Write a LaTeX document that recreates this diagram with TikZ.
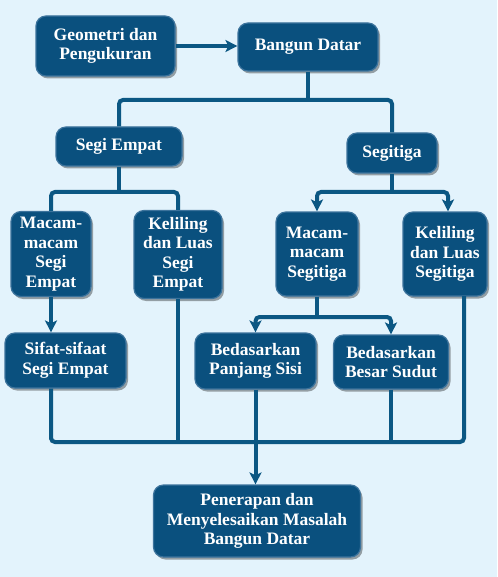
\documentclass[tikz,border=0pt]{standalone}
\usepackage{fontspec}
\setmainfont{Liberation Serif}
\usetikzlibrary{shadows,arrows.meta,calc}
\definecolor{bgblue}{HTML}{E3F3FC}
\definecolor{boxblue}{HTML}{0A507E}
\definecolor{boxedge}{HTML}{3C739C}
\definecolor{lineblue}{HTML}{0B5783}
\begin{document}
\begin{tikzpicture}[x=1pt,y=-1pt,
  box/.style={rounded corners=10pt, fill=boxblue, draw=boxedge, line width=1.2pt,
    drop shadow={shadow xshift=2pt, shadow yshift=-2.5pt, fill=black, opacity=0.35},
    text=white, font=\fontsize{17.5}{19.5}\selectfont\bfseries, align=center,
    inner sep=0pt},
  conn/.style={draw=lineblue, line width=4pt, rounded corners=4pt},
  arr/.style={conn, -{Stealth[length=12pt,width=12pt,inset=3pt]}}
]
\fill[bgblue] (0,0) rectangle (497,577);
\useasboundingbox (0,0) rectangle (497,577);

\node[box, minimum width=139pt, minimum height=60pt] (geo) at (105.5,46) {Geometri dan\\Pengukuran};
\node[box, minimum width=140pt, minimum height=48pt] (bd) at (308,47) {Bangun Datar};
\node[box, minimum width=126pt, minimum height=39pt] (se) at (119,146.5) {Segi Empat};
\node[box, minimum width=90pt, minimum height=40pt] (sg) at (392,153) {Segitiga};
\node[box, minimum width=80pt, minimum height=85pt] (mse) at (51,254) {Macam-\\macam\\Segi\\Empat};
\node[box, minimum width=88pt, minimum height=88pt] (kse) at (178,254.5) {Keliling\\dan Luas\\Segi\\Empat};
\node[box, minimum width=121pt, minimum height=55pt] (sifat) at (65.5,360.5) {Sifat-sifaat\\Segi Empat};
\node[box, minimum width=82pt, minimum height=84pt] (mst) at (317,254) {Macam-\\macam\\Segitiga};
\node[box, minimum width=84pt, minimum height=84pt] (kst) at (445,254) {Keliling\\dan Luas\\Segitiga};
\node[box, minimum width=121pt, minimum height=56pt] (bps) at (255.5,361) {Bedasarkan\\Panjang Sisi};
\node[box, minimum width=115pt, minimum height=54pt] (bbs) at (391,362) {Bedasarkan\\Besar Sudut};
\node[box, minimum width=207pt, minimum height=72pt] (pen) at (257,521) {Penerapan dan\\Menyelesaikan Masalah\\Bangun Datar};

\coordinate (j1) at (308,100);
\coordinate (j2) at (119,192);
\coordinate (j3) at (392,192);
\coordinate (j4) at (317,317);
\coordinate (bl) at (51,442);
\coordinate (br) at (464,442);
\coordinate (kstout) at (464,296);

\draw[arr] (geo.east) -- (bd.west |- geo.east);
\draw[conn] (bd.south) -- (j1);
\draw[conn] (se.north) |- (j1) -| (sg.north);
\draw[conn] (se.south) -- (j2);
\draw[conn] (mse.north) |- (j2) -| (kse.north);
\draw[arr] (mse.south) -- (mse.south |- sifat.north);
\draw[conn] (sg.south) -- (j3);
\draw[arr] (j3) -| (mst.north);
\draw[arr] (j3) -| ([xshift=3pt]kst.north);
\draw[conn] (mst.south) -- (j4);
\draw[arr] (j4) -| (bps.north);
\draw[arr] (j4) -| (bbs.north);
\draw[conn] (mse.south |- sifat.south) |- (bl) -- (br) -- (kstout);
\draw[conn] (kse.south) -- (kse.south |- bl);
\draw[conn] (bbs.south) -- (bbs.south |- bl);
\draw[arr] (bps.south) -- (bps.south |- pen.north);
\end{tikzpicture}
\end{document}
